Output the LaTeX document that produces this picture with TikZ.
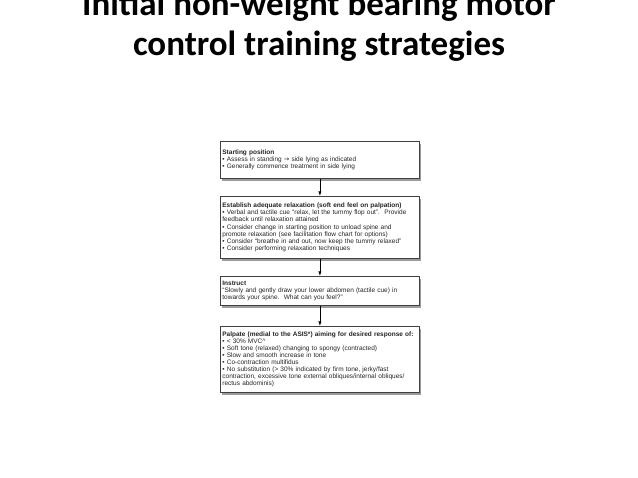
\documentclass[tikz,border=0pt]{standalone}
\usepackage{fontspec}
\setmainfont{Liberation Sans}
\newfontfamily\titlefont{Carlito}
\newfontfamily\arrowfont{DejaVu Sans}
\usetikzlibrary{shadows,arrows.meta}
\begin{document}
\begin{tikzpicture}[x=1pt,y=-1pt,
  box/.style={draw=black!75, line width=0.8pt, fill=white, rectangle,
    minimum width=199pt, text width=195pt, align=left, inner sep=0pt,
    anchor=north west, text=black!85,
    font=\fontsize{6.5}{7.1}\selectfont,
    drop shadow={shadow xshift=1.2pt, shadow yshift=-2.2pt, opacity=0.55, fill=black!70}},
  conn/.style={draw=black, line width=0.7pt, -{Latex[length=4.5pt,width=3.2pt]}},
  ttl/.style={font=\titlefont\bfseries\fontsize{35}{40}\selectfont, align=center}]
\useasboundingbox (0,0) rectangle (638,478);
\fill[white] (0,0) rectangle (638,478);
\node[ttl, anchor=base] (t1) at (319,16) {Initial non-weight bearing motor};
\node[ttl, anchor=base] (t2) at (319,56) {control training strategies};

\node[box, minimum height=37pt] (b1) at (220,141) {\textbf{Starting position}\\
• Assess in standing {\arrowfont →} side lying as indicated\\
• Generally commence treatment in side lying};

\node[box, minimum height=62pt] (b2) at (220,196) {\textbf{Establish adequate relaxation (soft end feel on palpation)}\\
• Verbal and tactile cue “relax, let the tummy flop out”.\ \ Provide\\
feedback until relaxation attained\\
• Consider change in starting position to unload spine and\\
promote relaxation (see facilitation flow chart for options)\\
• Consider “breathe in and out, now keep the tummy relaxed”\\
• Consider performing relaxation techniques};

\node[box, minimum height=29pt] (b3) at (220,276) {\textbf{Instruct}\\
“Slowly and gently draw your lower abdomen (tactile cue) in\\
towards your spine.\ \ What can you feel?”};

\node[box, minimum height=66pt] (b4) at (220,326) {\textbf{Palpate (medial to the ASIS*) aiming for desired response of:}\\
• < 30\% MVC\^{}\\
• Soft tone (relaxed) changing to spongy (contracted)\\
• Slow and smooth increase in tone\\
• Co-contraction multifidus\\
• No substitution (> 30\% indicated by firm tone, jerky/fast\\
contraction, excessive tone external obliques/internal obliques/\\
rectus abdominis)};

\draw[conn] (b1.south) -- (b2.north);
\draw[conn] (b2.south) -- (b3.north);
\draw[conn] (b3.south) -- (b4.north);
\end{tikzpicture}
\end{document}
